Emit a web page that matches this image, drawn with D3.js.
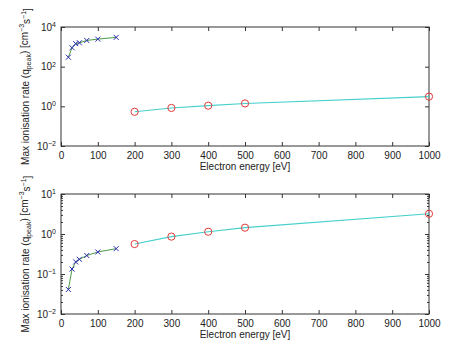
<!DOCTYPE html>
<html>
<head>
<meta charset="utf-8">
<script src="https://cdn.jsdelivr.net/npm/d3@7"></script>
<style>
  body { margin: 0; background: #fff; }
  text { font-family: "Liberation Sans", Arial, sans-serif; fill: #222; }
  .axis path, .axis line { stroke: #333; }
</style>
</head>
<body>
<script>
// energies [eV]
var lowEnergy = [20, 30, 40, 50, 70, 100, 150];
var highEnergy = [200, 300, 400, 500, 1000];

// top panel values
var topLow = [300, 900, 1450, 1600, 2100, 2450, 3000];
var topHigh = [0.53, 0.83, 1.08, 1.4, 3.1];

// bottom panel values
var botLow = [0.041, 0.133, 0.2, 0.233, 0.29, 0.355, 0.43];
var botHigh = [0.56, 0.86, 1.14, 1.44, 3.2];

var xTicks = [0, 100, 200, 300, 400, 500, 600, 700, 800, 900, 1000];
var topExp = [4, 2, 0, -2];
var botExp = [1, 0, -1, -2];

var w = 474, h = 353;
var svg = d3.select("body").append("svg")
    .attr("width", w)
    .attr("height", h);

var xScale = d3.scaleLinear().domain([0, 1000]).range([61, 429]);

function panel(top, bottom, yDomain, exps, lowVals, highVals, minor) {
    var yScale = d3.scaleLog().domain(yDomain).range([bottom, top]);
    var g = svg.append("g");

    // box
    g.append("rect")
        .attr("x", 61).attr("y", top)
        .attr("width", 429 - 61).attr("height", bottom - top)
        .attr("fill", "none").attr("stroke", "#333").attr("stroke-width", 1);

    //x ticks bottom and top, inward
    var xAxis = d3.axisBottom(xScale).tickValues(xTicks).tickSize(-4).tickPadding(6)
        .tickFormat(d3.format("d"));
    g.append("g").attr("class", "axis")
        .attr("transform", "translate(0," + bottom + ")")
        .call(xAxis)
        .call(function(s) { s.select(".domain").remove(); })
        .selectAll("text").style("font-size", "10px");
    g.append("g").attr("class", "axis")
        .attr("transform", "translate(0," + top + ")")
        .call(d3.axisTop(xScale).tickValues(xTicks).tickSize(-4).tickFormat(""))
        .call(function(s) { s.select(".domain").remove(); });

    var yVals = exps.map(function(e) { return Math.pow(10, e); });
    var yl = g.append("g").attr("class", "axis")
        .attr("transform", "translate(61,0)")
        .call(d3.axisLeft(yScale).tickValues(yVals).tickSize(-4).tickPadding(5));
    yl.select(".domain").remove();
    yl.selectAll("text").text(null).style("font-size", "10px")
        .each(function(d) {
            var t = d3.select(this);
            var e = Math.round(Math.log10(d));
            t.append("tspan").text("10");
            t.append("tspan").attr("dy", "-0.55em").style("font-size", "7px")
                .text(e < 0 ? "\u2212" + Math.abs(e) : e);
        });
    g.append("g").attr("class", "axis")
        .attr("transform", "translate(429,0)")
        .call(d3.axisRight(yScale).tickValues(yVals).tickSize(-4).tickFormat(""))
        .call(function(s) { s.select(".domain").remove(); });

    if (minor) {
        var minors = [];
        for (var e = exps[exps.length - 1]; e < exps[0]; e++) {
            for (var k = 2; k < 10; k++) minors.push(k * Math.pow(10, e));
        }
        g.append("g").attr("class", "axis")
            .attr("transform", "translate(61,0)")
            .call(d3.axisLeft(yScale).tickValues(minors).tickSize(-2).tickFormat(""))
            .call(function(s) { s.select(".domain").remove(); });
        g.append("g").attr("class", "axis")
            .attr("transform", "translate(429,0)")
            .call(d3.axisRight(yScale).tickValues(minors).tickSize(-2).tickFormat(""))
            .call(function(s) { s.select(".domain").remove(); });
    }

    var line = d3.line()
        .x(function(d) { return xScale(d[0]); })
        .y(function(d) { return yScale(d[1]); });

    var lowData = d3.zip(lowEnergy, lowVals);
    var highData = d3.zip(highEnergy, highVals);

    g.append("path").datum(lowData).attr("d", line)
        .attr("fill", "none").attr("stroke", "#4a9a4a").attr("stroke-width", 1);
    g.append("path").datum(highData).attr("d", line)
        .attr("fill", "none").attr("stroke", "#45d0cc").attr("stroke-width", 1.1);

    // blue crosses
    g.selectAll(".cross").data(lowData).enter()
        .append("path").attr("class", "cross")
        .attr("transform", function(d) { return "translate(" + xScale(d[0]) + "," + yScale(d[1]) + ")"; })
        .attr("d", "M-2.5,-2.5L2.5,2.5M-2.5,2.5L2.5,-2.5")
        .attr("stroke", "#2a2ab0").attr("stroke-width", 1);

    // red circles
    g.selectAll(".circ").data(highData).enter()
        .append("circle").attr("class", "circ")
        .attr("cx", function(d) { return xScale(d[0]); })
        .attr("cy", function(d) { return yScale(d[1]); })
        .attr("r", 3.6)
        .attr("fill", "none").attr("stroke", "#e03a3a").attr("stroke-width", 1);

    // axis labels
    g.append("text")
        .attr("x", 245).attr("y", bottom + 24)
        .attr("text-anchor", "middle").style("font-size", "10px")
        .text("Electron energy [eV]");

    var ylab = g.append("text")
        .attr("transform", "translate(29," + ((top + bottom) / 2) + ") rotate(-90)")
        .attr("text-anchor", "middle").style("font-size", "10px");
    ylab.append("tspan").text("Max ionisation rate (q");
    ylab.append("tspan").attr("dy", "0.3em").style("font-size", "7px").text("peak");
    ylab.append("tspan").attr("dy", "-0.3em").text(") [cm");
    ylab.append("tspan").attr("dy", "-0.55em").style("font-size", "7px").text("\u22123");
    ylab.append("tspan").attr("dy", "0.55em").text("s");
    ylab.append("tspan").attr("dy", "-0.55em").style("font-size", "7px").text("\u22121");
    ylab.append("tspan").attr("dy", "0.55em").text("]");
}

panel(27, 146, [1e-2, 1e4], topExp, topLow, topHigh, false);
panel(194, 314, [1e-2, 1e1], botExp, botLow, botHigh, true);
</script>
</body>
</html>
